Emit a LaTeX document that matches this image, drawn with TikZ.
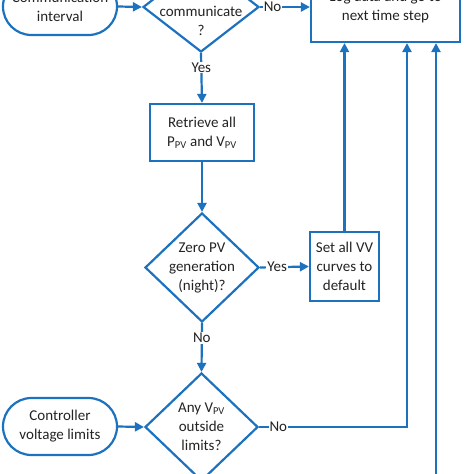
\documentclass[tikz,border=0pt]{standalone}
\usepackage{fontspec}
\setmainfont{Carlito}
\usetikzlibrary{shapes.geometric,shapes.misc,arrows.meta}
\definecolor{flowblue}{RGB}{28,114,190}
\definecolor{flowtext}{RGB}{35,35,35}
\tikzset{
	every node/.style={font=\fontsize{15}{19}\selectfont, text=flowtext, align=center},
	term/.style={rounded rectangle, draw=flowblue, line width=2.2pt, minimum width=114pt, minimum height=57pt, inner sep=0pt},
	box/.style={rectangle, draw=flowblue, line width=2.2pt, inner sep=0pt},
	decision/.style={diamond, draw=flowblue, line width=2.2pt, inner sep=0pt},
	flow/.style={draw=flowblue, line width=2.2pt, -{Triangle[length=9pt,width=9pt]}},
	tag/.style={fill=white, inner sep=1pt},
}
\begin{document}
\begin{tikzpicture}[x=1pt,y=-1pt]
	\path [use as bounding box, clip] (0,0) rectangle (474,474);
	% nodes
	\node [term] (comm) at (60,6.5) {Communication\\interval};
	\node [decision, minimum width=116pt, minimum height=90pt,
		label={[yshift=-4pt]center:Time to\\communicate\\?}] (ttc) at (201,7) {};
	\node [box, minimum width=149pt, minimum height=70pt] (log) at (385.5,7) {Log data and go to\\next time step};
	\node [box, minimum width=104pt, minimum height=57pt] (retr) at (202,132.5) {Retrieve all\\P\textsubscript{PV} and V\textsubscript{PV}};
	\node [decision, minimum width=114pt, minimum height=109pt,
		label={center:Zero PV\\generation\\(night)?}] (zero) at (202,267.5) {};
	\node [box, minimum width=69pt, minimum height=69pt] (setvv) at (344.5,266.5) {Set all VV\\curves to\\default};
	\node [term] (ctrl) at (60,426.5) {Controller\\voltage limits};
	\node [decision, minimum width=113pt, minimum height=108pt,
		label={center:Any V\textsubscript{PV}\\outside\\limits?}] (anyv) at (201.5,427) {};
	\coordinate (nocorner) at (407,427);
	\coordinate (loopin) at (436,490);
	% connectors
	\draw [flow] (comm.east) -- (ttc.west);
	\draw [flow] (ttc.east) -- node [tag, pos=0.25] {No} (log.west);
	\draw [flow] (ttc.south) -- node [tag, pos=0.29] {Yes} (retr.north);
	\draw [flow] (retr.south) -- (zero.north);
	\draw [flow] (zero.east) -- node [tag, pos=0.35] {Yes} (setvv.west);
	\draw [flow] (setvv.north) -- (setvv.north |- log.south);
	\draw [flow] (zero.south) -- node [tag, pos=0.3] {No} (anyv.north);
	\draw [flow] (ctrl.east) -- (anyv.west);
	\draw [flow] (anyv.east) -- node [tag, pos=0.13] {No} (nocorner) -- (nocorner |- log.south);
	\draw [flow] (loopin) -- (loopin |- log.south);
\end{tikzpicture}
\end{document}
